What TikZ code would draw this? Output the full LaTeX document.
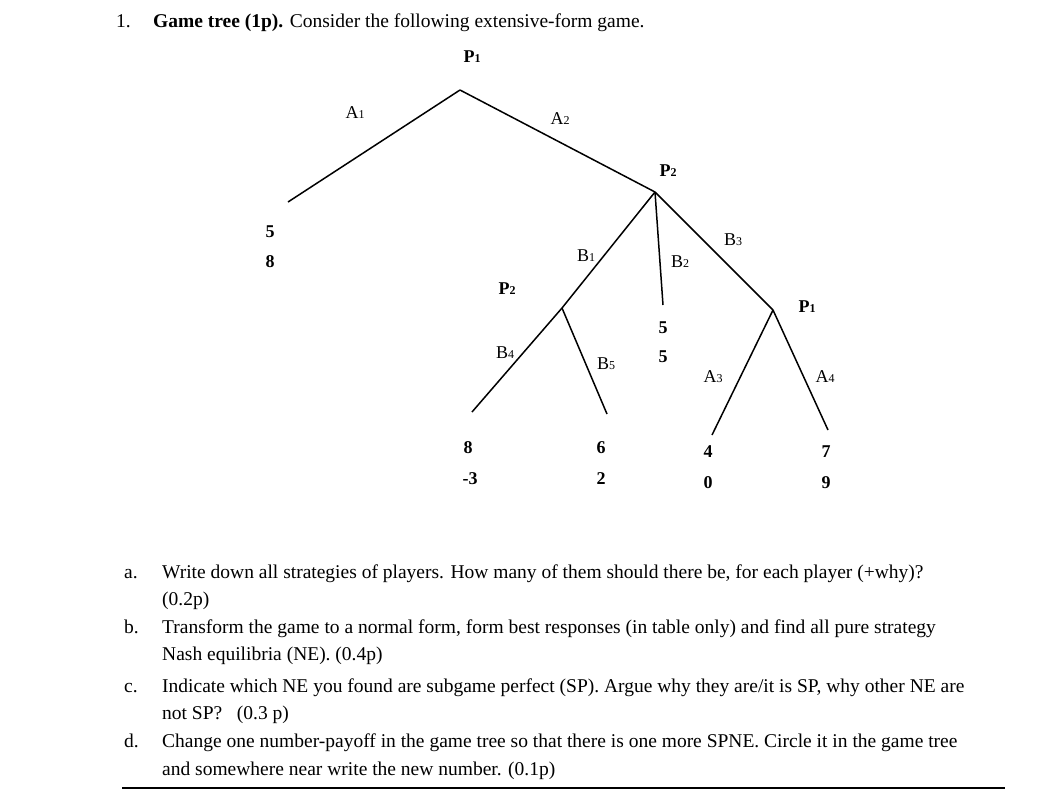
\documentclass[tikz,border=0pt]{standalone}
\usepackage{fontspec}
\setmainfont{Liberation Serif}
\newcommand{\sm}[1]{{\fontsize{12}{12}\selectfont #1}}
\begin{document}
\begin{tikzpicture}[x=1pt,y=-1pt,
  lbl/.style={font=\fontsize{18}{18}\selectfont, inner sep=0pt},
  bl/.style={font=\fontsize{18}{18}\selectfont\bfseries, inner sep=0pt},
  txt/.style={font=\fontsize{19.5}{19.5}\selectfont, inner sep=0pt, anchor=base west},
  edge/.style={line width=1.5pt}]
\useasboundingbox (0,0) rectangle (1038,804);
% header
\node[txt] (h1) at (116,27) {1.};
\node[txt] (h2) at (153,27) {\textbf{Game tree (1p).} Consider the following extensive-form game.};
% tree nodes
\coordinate (r) at (460,90);
\coordinate (l1) at (288,202);
\coordinate (n2) at (655,192);
\coordinate (n3) at (562,308);
\coordinate (l2) at (663,305);
\coordinate (n4) at (773,310);
\coordinate (l3) at (472,412);
\coordinate (l4) at (607,414);
\coordinate (l5) at (712,435);
\coordinate (l6) at (828,430);
\draw[edge] (r)--(l1); \draw[edge] (r)--(n2);
\draw[edge] (n2)--(n3); \draw[edge] (n2)--(l2); \draw[edge] (n2)--(n4);
\draw[edge] (n3)--(l3); \draw[edge] (n3)--(l4);
\draw[edge] (n4)--(l5); \draw[edge] (n4)--(l6);
% labels
\node[bl] (p1) at (472,57) {P\sm{1}};
\node[lbl] (a1) at (355,113) {A\sm{1}};
\node[lbl] (a2) at (560,119) {A\sm{2}};
\node[bl] (p2) at (668,171) {P\sm{2}};
\node[bl] (v1) at (270,232) {5}; \node[bl] (v2) at (270,262) {8};
\node[lbl] (b1) at (586,256) {B\sm{1}};
\node[lbl] (b2) at (680,262) {B\sm{2}};
\node[lbl] (b3) at (733,240) {B\sm{3}};
\node[bl] (p2b) at (507,289) {P\sm{2}};
\node[bl] (p1b) at (807,307) {P\sm{1}};
\node[bl] (v3) at (663,328) {5}; \node[bl] (v4) at (663,357) {5};
\node[lbl] (b4) at (505,353) {B\sm{4}};
\node[lbl] (b5) at (606,364) {B\sm{5}};
\node[lbl] (a3) at (713,377) {A\sm{3}};
\node[lbl] (a4) at (825,377) {A\sm{4}};
\node[bl] (v5) at (468,448) {8}; \node[bl] (v6) at (470,479) {-3};
\node[bl] (v7) at (601,448) {6}; \node[bl] (v8) at (601,479) {2};
\node[bl] (v9) at (708,452) {4}; \node[bl] (v10) at (708,483) {0};
\node[bl] (v11) at (826,452) {7}; \node[bl] (v12) at (826,483) {9};
% questions
\node[txt] (qa) at (124,578) {a.};
\node[txt] (qa1) at (162,578) {Write down all strategies of players. How many of them should there be, for each player (+why)?};
\node[txt] (qa2) at (162,605) {(0.2p)};
\node[txt] (qb) at (124,633) {b.};
\node[txt] (qb1) at (162,633) {Transform the game to a normal form, form best responses (in table only) and find all pure strategy};
\node[txt] (qb2) at (162,660) {Nash equilibria (NE). (0.4p)};
\node[txt] (qc) at (124,692) {c.};
\node[txt] (qc1) at (162,692) {Indicate which NE you found are subgame perfect (SP). Argue why they are/it is SP, why other NE are};
\node[txt] (qc2) at (162,719) {not SP?\ \ \ (0.3 p)};
\node[txt] (qd) at (124,747) {d.};
\node[txt] (qd1) at (162,747) {Change one number-payoff in the game tree so that there is one more SPNE. Circle it in the game tree};
\node[txt] (qd2) at (162,775) {and somewhere near write the new number. (0.1p)};
\coordinate (ls) at (122,788); \coordinate (le) at (1005,788);
\draw[line width=1.2pt] (ls)--(le);
\end{tikzpicture}
\end{document}
